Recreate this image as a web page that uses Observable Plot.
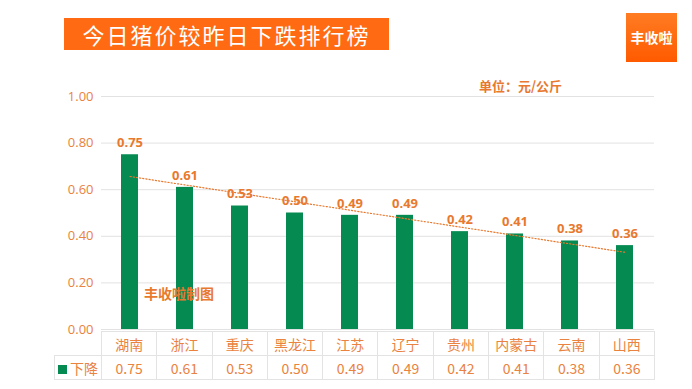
<!DOCTYPE html>
<html><head><meta charset="utf-8">
<script src="https://cdn.jsdelivr.net/npm/d3@7"></script>
<script src="https://cdn.jsdelivr.net/npm/@observablehq/plot@0.6"></script>
<style>
html,body{margin:0;padding:0;background:#fff;}
body{width:692px;height:389px;position:relative;overflow:hidden;font-family:"Noto Sans CJK SC","Noto Sans",sans-serif;}
#title{position:absolute;left:64px;top:18px;width:325px;height:32px;background:#FF6A13;color:#fff;font-size:22px;line-height:32px;letter-spacing:2px;text-align:center;}
#logo{position:absolute;left:626px;top:13px;width:51px;height:49px;background:linear-gradient(#FF7C22,#FF5A00);color:#fff;font-size:14px;font-weight:bold;line-height:49px;text-align:center;}
#unit{position:absolute;left:479px;top:76px;color:#E8792E;font-size:13px;font-weight:bold;}
#mark{position:absolute;left:144px;top:283px;color:#E8792E;font-size:14px;font-weight:bold;}
#chart{position:absolute;left:0;top:0;}
table{position:absolute;left:54px;top:331px;border-collapse:collapse;color:#EA8240;font-size:14px;}
td{border:1px solid #e3e3e3;text-align:center;padding:0;height:23px;width:54.3px;}
td.lg{width:46px;border:none;}
tr.v td.lg{border:1px solid #e3e3e3;}
.sw{display:inline-block;width:9px;height:9px;background:#058A52;margin-right:3px;vertical-align:0px;}
</style></head>
<body>
<div id="chart"></div>
<div id="title">今日猪价较昨日下跌排行榜</div>
<div id="logo">丰收啦</div>
<div id="unit">单位：元/公斤</div>
<div id="mark">丰收啦制图</div>
<table id="tbl"></table>
<script>
const categories = ["湖南","浙江","重庆","黑龙江","江苏","辽宁","贵州","内蒙古","云南","山西"];
const values = [0.75,0.61,0.53,0.50,0.49,0.49,0.42,0.41,0.38,0.36];
const yTicks = [0,0.2,0.4,0.6,0.8,1.0];
const seriesName = "下降";

const data = categories.map((c,i)=>({c, v:values[i], i:i+1}));
// linear trend line from the data
const mx = d3.mean(data,d=>d.i), my = d3.mean(data,d=>d.v);
const slope = d3.sum(data,d=>(d.i-mx)*(d.v-my))/d3.sum(data,d=>(d.i-mx)**2);
const trend = data.map(d=>({c:d.c, t: my + slope*(d.i-mx)}));

const orange = "#E8792E";
const chart = Plot.plot({
  width:692, height:389,
  marginTop:96, marginBottom:60, marginLeft:101, marginRight:38,
  style:{fontFamily:"'Open Sans','Noto Sans CJK SC',sans-serif", fontSize:"13px", color:"#EA8240", background:"transparent"},
  x:{domain:categories, paddingInner:0.684, paddingOuter:0.342, axis:null},
  y:{domain:[0,1], ticks:yTicks, tickFormat:d3.format(".2f"), tickSize:0, tickPadding:8, label:null, grid:false},
  marks:[
    Plot.ruleY(yTicks,{stroke:"#e2e2e2", strokeWidth:1}),
    Plot.barY(data,{x:"c", y:"v", fill:"#058A52"}),
    Plot.line(trend,{x:"c", y:"t", stroke:orange, strokeWidth:1.2, strokeDasharray:"1.2,2"}),
    Plot.text(data,{x:"c", y:"v", text:d=>d3.format(".2f")(d.v), dy:-12, fill:orange, fontWeight:"bold", fontSize:13})
  ]
});
document.getElementById("chart").appendChild(chart);

const tbl = document.getElementById("tbl");
let r1 = '<tr><td class="lg"></td>' + categories.map(c=>`<td>${c}</td>`).join("") + '</tr>';
let r2 = `<tr class="v"><td class="lg"><span class="sw"></span>${seriesName}</td>` + values.map(v=>`<td>${v.toFixed(2)}</td>`).join("") + '</tr>';
tbl.innerHTML = r1 + r2;
</script>
</body></html>
